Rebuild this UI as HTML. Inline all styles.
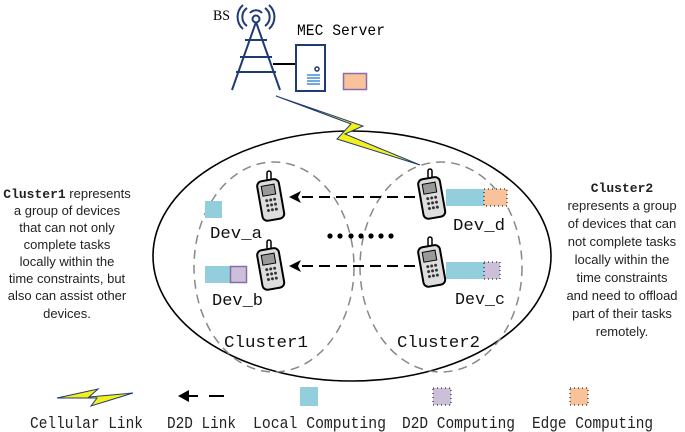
<!DOCTYPE html><html><head><style>
body{margin:0;width:685px;height:432px;background:#fff;overflow:hidden;position:relative;font-family:"Liberation Sans",sans-serif}
</style></head><body>
<svg width="685" height="432" style="position:absolute;left:0;top:0" font-family="Liberation Mono, monospace">
<defs>
<g id="ph">
<rect x="-3" y="-25" width="4" height="10" rx="2" fill="#fff" stroke="#000" stroke-width="1.5"/>
<rect x="-11" y="-16" width="22" height="40" rx="5" fill="#ddd" stroke="#000" stroke-width="2" transform="rotate(-10)"/>
<rect x="-7" y="-11" width="13" height="10" fill="#999" stroke="#000" transform="rotate(-10)"/>
<g fill="#333" transform="rotate(-10)"><circle cx="-4" cy="4" r="1.5"/><circle cx="0" cy="4" r="1.5"/><circle cx="4" cy="4" r="1.5"/><circle cx="-4" cy="9" r="1.5"/><circle cx="0" cy="9" r="1.5"/><circle cx="4" cy="9" r="1.5"/><circle cx="-4" cy="14" r="1.5"/><circle cx="0" cy="14" r="1.5"/><circle cx="4" cy="14" r="1.5"/></g>
</g>
</defs>
<ellipse cx="352" cy="256" rx="199" ry="125" fill="none" stroke="#000" stroke-width="1.6"/>
<ellipse cx="274" cy="267" rx="80" ry="105" fill="none" stroke="#888" stroke-width="1.5" stroke-dasharray="9,6"/>
<ellipse cx="441" cy="267" rx="81" ry="105" fill="none" stroke="#888" stroke-width="1.5" stroke-dasharray="9,6"/>
<g stroke="#1f3b73" stroke-width="2" fill="none">
<line x1="256" y1="22" x2="232" y2="90"/><line x1="256" y1="22" x2="280" y2="90"/>
<line x1="245" y1="40" x2="267" y2="40"/><line x1="240" y1="57" x2="272" y2="57"/><line x1="236" y1="72" x2="276" y2="72"/>
<circle cx="256" cy="19" r="3.5"/>
<path d="M250 13 A8 8 0 0 1 262 13"/><path d="M247 26 A11 11 0 0 1 247 8"/><path d="M265 26 A11 11 0 0 0 265 8"/>
<path d="M243 29 A16 16 0 0 1 243 5"/><path d="M269 29 A16 16 0 0 0 269 5"/>
</g>
<line x1="273" y1="64" x2="296" y2="64" stroke="#000" stroke-width="2"/>
<rect x="296" y="45" width="29" height="46" fill="#fff" stroke="#1f3b73" stroke-width="2"/>
<circle cx="317" cy="69" r="2" fill="none" stroke="#1f3b73" stroke-width="1.5"/>
<g stroke="#2a7bd0" stroke-width="1.3"><line x1="307" y1="75" x2="320" y2="75"/><line x1="307" y1="78" x2="320" y2="78"/><line x1="307" y1="81" x2="320" y2="81"/><line x1="307" y1="84" x2="320" y2="84"/></g>
<rect x="343.5" y="73.5" width="23" height="16" fill="#f8c39a" stroke="#8a6da8" stroke-width="1.5"/>
<text x="213" y="20" font-size="15" font-family="Liberation Serif, serif" textLength="17" lengthAdjust="spacingAndGlyphs">BS</text>
<text x="297" y="35" font-size="16" textLength="88" lengthAdjust="spacingAndGlyphs">MEC Server</text>
<polygon points="276,96 351,124 337,139 420,165 345,134 363,126" fill="#f5f01a" stroke="#1f3b73" stroke-width="1"/>
<use href="#ph" x="270" y="196"/><use href="#ph" x="270" y="265"/>
<use href="#ph" x="431" y="194"/><use href="#ph" x="431" y="262"/>
<g stroke="#000" stroke-width="2" stroke-dasharray="11,6">
<line x1="415" y1="197" x2="296" y2="197"/><line x1="415" y1="266" x2="296" y2="266"/></g>
<polygon points="289,197 301,191 298,197 301,203" fill="#000"/>
<polygon points="289,266 301,260 298,266 301,272" fill="#000"/>
<g fill="#000"><circle cx="330" cy="236" r="2.6"/><circle cx="340" cy="236" r="2.6"/><circle cx="351" cy="236" r="2.6"/><circle cx="361" cy="236" r="2.6"/><circle cx="371" cy="236" r="2.6"/><circle cx="381" cy="236" r="2.6"/><circle cx="391" cy="236" r="2.6"/></g>
<rect x="205" y="201" width="17" height="17" fill="#92cedb"/>
<rect x="205" y="266" width="25" height="17" fill="#92cedb"/>
<rect x="230.5" y="266.5" width="16" height="16" fill="#cbbfd9" stroke="#8a6da8" stroke-width="1.5"/>
<rect x="446" y="189" width="38" height="17" fill="#92cedb"/>
<rect x="484" y="189" width="23" height="17" fill="#f8c39a" stroke="#000" stroke-dasharray="1,3"/>
<rect x="446" y="262" width="38" height="17" fill="#92cedb"/>
<rect x="484" y="262" width="16" height="17" fill="#cbbfd9" stroke="#000" stroke-dasharray="1,3"/>
<g font-size="17" fill="#111">
<text x="210" y="238" textLength="52" lengthAdjust="spacingAndGlyphs">Dev_a</text>
<text x="212" y="305" textLength="51" lengthAdjust="spacingAndGlyphs">Dev_b</text>
<text x="453" y="230" textLength="52" lengthAdjust="spacingAndGlyphs">Dev_d</text>
<text x="455" y="304" textLength="50" lengthAdjust="spacingAndGlyphs">Dev_c</text>
<text x="224" y="347" textLength="84" lengthAdjust="spacingAndGlyphs">Cluster1</text>
<text x="397" y="347" textLength="83" lengthAdjust="spacingAndGlyphs">Cluster2</text>
</g>
<polygon points="57,398 98,389 89,397 133,393 91,406 97,398" fill="#f5f01a" stroke="#1f3b73" stroke-width="1"/>
<polygon points="178,396 189,390 189,402" fill="#000"/>
<line x1="188" y1="396" x2="198" y2="396" stroke="#000" stroke-width="2"/>
<line x1="209" y1="396" x2="224" y2="396" stroke="#000" stroke-width="2"/>
<rect x="300" y="387" width="18" height="19" fill="#92cedb"/>
<rect x="433" y="388" width="18" height="17" fill="#cbbfd9" stroke="#000" stroke-dasharray="1,3"/>
<rect x="570" y="388" width="18" height="17" fill="#f8c39a" stroke="#000" stroke-dasharray="1,3"/>
<g font-size="17" fill="#222">
<text x="30" y="428" textLength="113" lengthAdjust="spacingAndGlyphs">Cellular Link</text>
<text x="167" y="428" textLength="69" lengthAdjust="spacingAndGlyphs">D2D Link</text>
<text x="253" y="428" textLength="133" lengthAdjust="spacingAndGlyphs">Local Computing</text>
<text x="402" y="428" textLength="113" lengthAdjust="spacingAndGlyphs">D2D Computing</text>
<text x="532" y="428" textLength="121" lengthAdjust="spacingAndGlyphs">Edge Computing</text>
</g>
<g font-family="Liberation Sans, sans-serif" font-size="13" fill="#222" text-anchor="middle">
<text x="67" y="198"><tspan font-family="Liberation Mono, monospace" font-weight="bold">Cluster1</tspan> represents</text>
<text x="67" y="215">a group of devices</text>
<text x="67" y="232">that can not only</text>
<text x="67" y="249">complete tasks</text>
<text x="67" y="266">locally within the</text>
<text x="67" y="283">time constraints, but</text>
<text x="67" y="300">also can assist other</text>
<text x="67" y="318">devices.</text>
<text x="622" y="192" font-family="Liberation Mono, monospace" font-weight="bold">Cluster2</text>
<text x="622" y="210">represents a group</text>
<text x="622" y="228">of devices that can</text>
<text x="622" y="246">not complete tasks</text>
<text x="622" y="264">locally within the</text>
<text x="622" y="282">time constraints</text>
<text x="622" y="300">and need to offload</text>
<text x="622" y="318">part of their tasks</text>
<text x="622" y="336">remotely.</text>
</g>
</svg>
</body></html>
